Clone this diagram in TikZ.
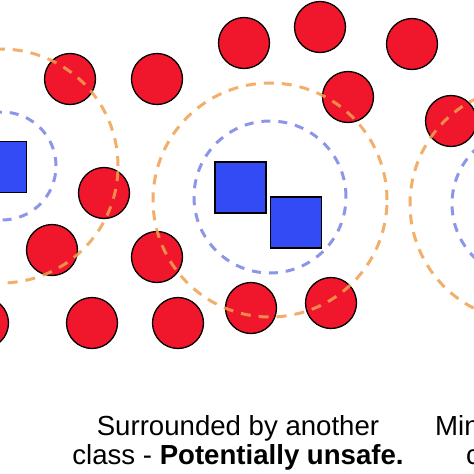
\documentclass[tikz,border=0pt]{standalone}
\usepackage{fontspec}
\setmainfont{Liberation Sans}
\definecolor{redfill}{RGB}{240,22,44}
\definecolor{bluefill}{RGB}{50,75,245}
\definecolor{bluedash}{RGB}{140,150,232}
\definecolor{orangedash}{RGB}{240,160,80}
\tikzset{
  redc/.style={circle,draw=black,line width=1.3pt,fill=redfill,minimum size=51pt,inner sep=0pt},
  bluesq/.style={rectangle,draw=black,line width=1.3pt,fill=bluefill,minimum size=51pt,inner sep=0pt},
  bluering/.style={draw=bluedash,line width=3pt,dash pattern=on 9pt off 8pt},
  orangering/.style={draw=orangedash,line width=3pt,dash pattern=on 10pt off 8pt,opacity=0.85},
  lab/.style={anchor=base,inner sep=0pt,font=\fontsize{27.6}{29.5}\selectfont},
}
\begin{document}
\begin{tikzpicture}[x=1pt,y=-1pt]
\useasboundingbox (0,0) rectangle (474,474);
% red circles
\node[redc] (r1) at (70,79) {};
\node[redc] (r2) at (157,79) {};
\node[redc] (r3) at (244,43) {};
\node[redc] (r4) at (320,27) {};
\node[redc] (r5) at (412,44) {};
\node[redc] (r6) at (348,97) {};
\node[redc] (r7) at (451,121) {};
\node[redc] (r8) at (104,193) {};
\node[redc] (r9) at (52,250) {};
\node[redc] (r10) at (157,257) {};
\node[redc] (r11) at (-17,323) {};
\node[redc] (r12) at (92,323) {};
\node[redc] (r13) at (178,323) {};
\node[redc] (r14) at (251,308) {};
\node[redc] (r15) at (331,303) {};
% blue squares
\node[bluesq] (s0) at (1,167) {};
\node[bluesq] (s1) at (240.5,187.5) {};
\node[bluesq] (s2) at (296,222.5) {};
% dashed neighbourhoods
\draw[bluering] (2,166) circle[radius=54pt];
\draw[orangering] (1,166) circle[radius=117pt];
\draw[bluering] (270,197) circle[radius=76pt];
\draw[orangering] (270,200) circle[radius=117pt];
\draw[bluering] (527,204) circle[radius=75pt];
\draw[orangering] (527,204) circle[radius=117pt];
% labels
\node[lab] (t1) at (238,435) {Surrounded by another};
\node[lab] (t2) at (238,464) {class - \textbf{Potentially unsafe.}};
\node[lab,anchor=base west] (t3) at (435,435) {Min};
\node[lab,anchor=base west] (t4) at (466,464) {c};
\end{tikzpicture}
\end{document}
